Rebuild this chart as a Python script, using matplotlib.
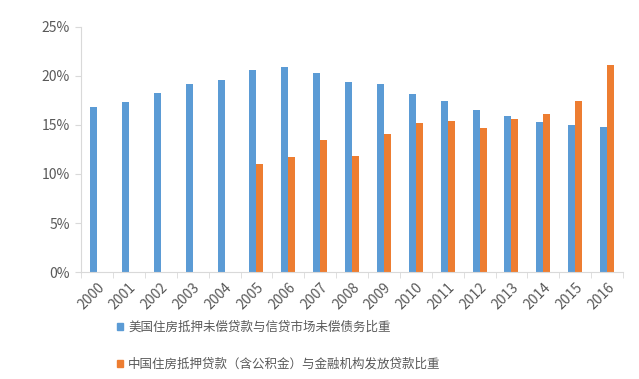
import numpy as np
import matplotlib
matplotlib.use("Agg")
import matplotlib.pyplot as plt
from matplotlib.patches import Patch

plt.rcParams['font.family'] = ['Noto Sans CJK SC', 'DejaVu Sans']

years = [str(y) for y in range(2000, 2017)]
us_share = [16.8, 17.3, 18.25, 19.2, 19.6, 20.55, 20.9, 20.25, 19.4, 19.15,
            18.1, 17.4, 16.5, 15.9, 15.3, 15.0, 14.75]
cn_share = [np.nan, np.nan, np.nan, np.nan, np.nan, 11.05, 11.7, 13.4, 11.8, 14.1,
            15.2, 15.4, 14.65, 15.6, 16.1, 17.4, 21.1]
us_label = "美国住房抵押未偿贷款与信贷市场未偿债务比重"
cn_label = "中国住房抵押贷款（含公积金）与金融机构发放贷款比重"

blue = "#5B9BD5"
orange = "#ED7D31"
grey = "#595959"
axis_grey = "#D9D9D9"

fig = plt.figure(figsize=(6.39, 3.79), dpi=100)
ax = fig.add_axes([0.127, 0.282, 0.848, 0.648])

x = np.arange(len(years))
w = 0.22
ax.bar(x - w / 2, us_share, w, color=blue)
ax.bar(x + w / 2, cn_share, w, color=orange)

ax.set_xlim(-0.5, len(years) - 0.5)
ax.set_ylim(0, 25)
ax.set_yticks(range(0, 26, 5))
ax.set_yticklabels([f"{v}%" for v in range(0, 26, 5)], color=grey, fontsize=10)
ax.set_xticks(x)
ax.set_xticklabels(years, rotation=45, ha='right', rotation_mode='anchor',
                   color=grey, fontsize=10)
ax.set_xticks(np.arange(-0.5, len(years)), minor=True)
ax.tick_params(axis='x', which='major', length=0, pad=6)
ax.tick_params(axis='x', which='minor', length=4, color=axis_grey)
ax.tick_params(axis='y', length=4, color=axis_grey, pad=4)

for side in ['top', 'right']:
    ax.spines[side].set_visible(False)
ax.spines['left'].set_color(axis_grey)
ax.spines['bottom'].set_color(axis_grey)

handles = [Patch(color=blue, label=us_label), Patch(color=orange, label=cn_label)]
fig.legend(handles=handles, loc='upper left', bbox_to_anchor=(0.176, 0.166),
           frameon=False, fontsize=9, labelcolor=grey,
           handlelength=0.45, handleheight=0.45, handletextpad=0.4,
           labelspacing=1.9, borderaxespad=0)

fig.savefig("out.png", dpi=100)
